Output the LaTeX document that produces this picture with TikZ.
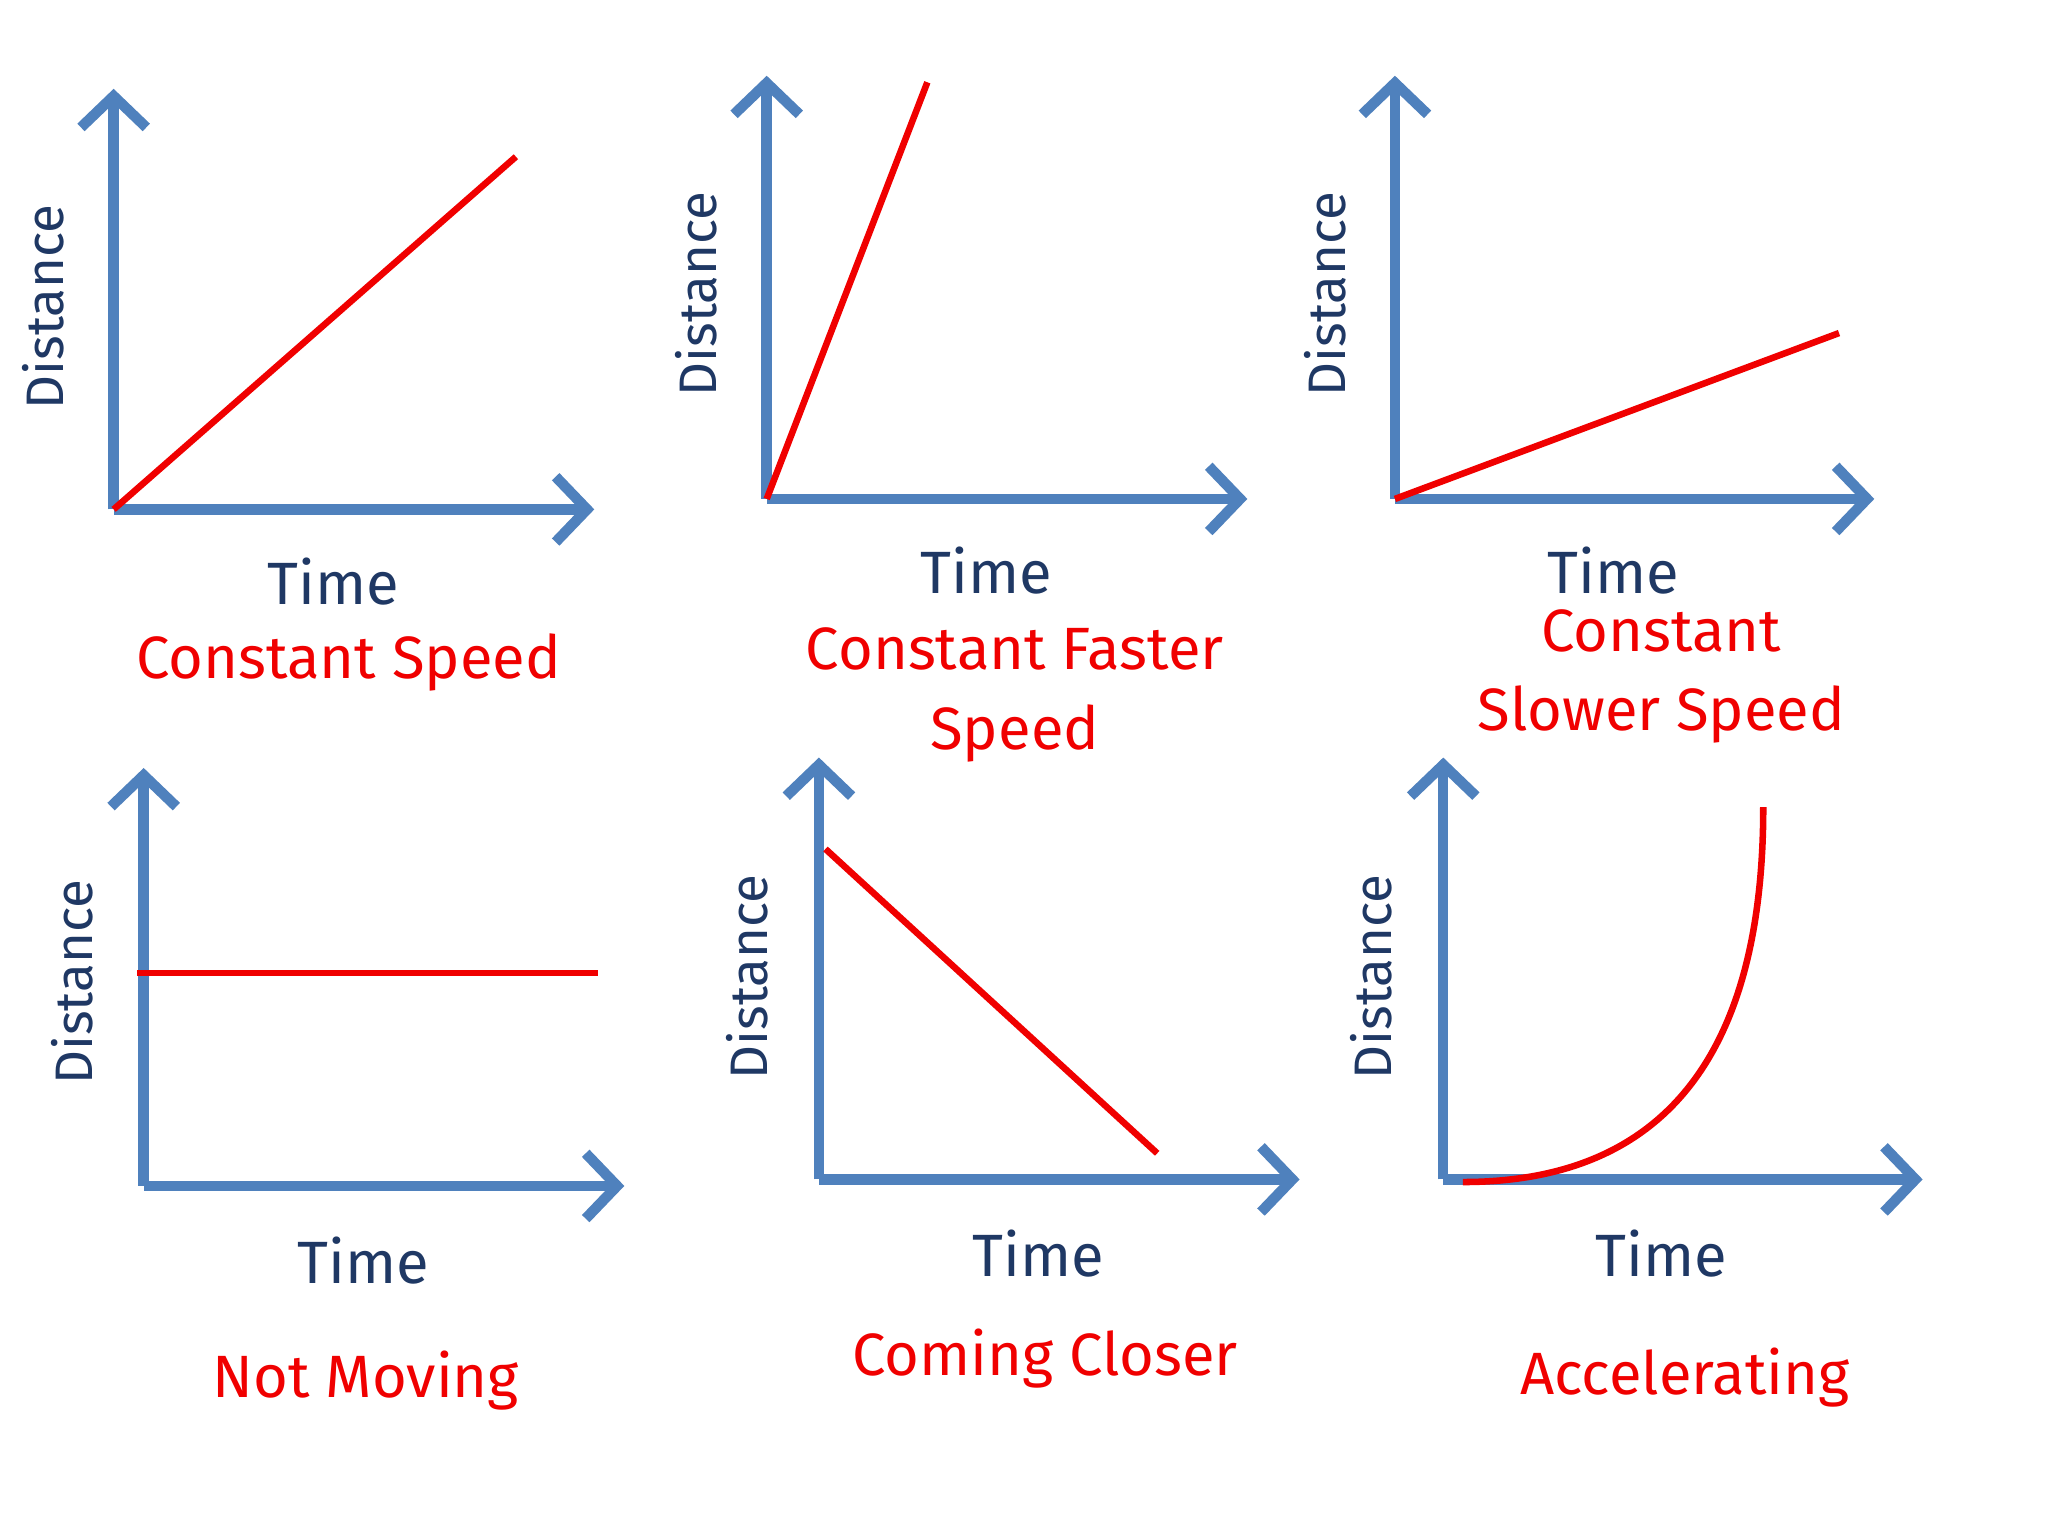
\documentclass[tikz,border=0pt]{standalone}
\usepackage{fontspec}
\setmainfont{Fira Sans}
\usetikzlibrary{arrows.meta}
\definecolor{axb}{HTML}{4F81BD}
\definecolor{txb}{HTML}{1F3864}
\definecolor{rd}{HTML}{F00000}
\tikzset{
 axis/.style={draw=axb,line width=0.08cm,-{Straight Barb[length=0.24cm,width=0.5cm,line width=0.08cm]}},
 curve/.style={draw=rd,line width=0.05cm},
 dist/.style={rotate=90,text=txb,font=\fontsize{11.5}{14}\selectfont},
 tim/.style={text=txb,font=\fontsize{13}{15}\selectfont},
 ttl/.style={text=rd,font=\fontsize{13}{15}\selectfont,align=center}
}
\begin{document}
\begin{tikzpicture}[x=0.01cm,y=-0.01cm]
\useasboundingbox[fill=white] (0,0) rectangle (1568,1176);
% chart 1
\coordinate (o1) at (87,390); \coordinate (t1) at (87,68); \coordinate (r1) at (455,390);
\draw[axis] (o1) -- (t1); \draw[axis] (o1) -- (r1);
\coordinate (a1) at (87,390); \coordinate (b1) at (395,120);
\draw[curve] (a1) -- (b1);
\node[dist] (d1) at (33,235) {Distance};
\node[tim] (m1) at (255,445) {Time};
\node[ttl] (n1) at (267,507) {Constant Speed};
% chart 2
\coordinate (o2) at (587,382); \coordinate (t2) at (587,58); \coordinate (r2) at (955,382);
\draw[axis] (o2) -- (t2); \draw[axis] (o2) -- (r2);
\coordinate (a2) at (587,382); \coordinate (b2) at (710,63);
\draw[curve] (a2) -- (b2);
\node[dist] (d2) at (533,225) {Distance};
\node[tim] (m2) at (755,437) {Time};
\node[ttl] (n2) at (777,532) {Constant Faster\\[0.08cm]Speed};
% chart 3
\coordinate (o3) at (1068,382); \coordinate (t3) at (1068,58); \coordinate (r3) at (1435,382);
\draw[axis] (o3) -- (t3); \draw[axis] (o3) -- (r3);
\coordinate (a3) at (1068,382); \coordinate (b3) at (1408,255);
\draw[curve] (a3) -- (b3);
\node[dist] (d3) at (1015,225) {Distance};
\node[tim] (m3) at (1235,437) {Time};
\node[ttl] (n3) at (1272,518) {Constant\\[0.08cm]Slower Speed};
% chart 4
\coordinate (o4) at (110,908); \coordinate (t4) at (110,588); \coordinate (r4) at (478,908);
\draw[axis] (o4) -- (t4); \draw[axis] (o4) -- (r4);
\coordinate (a4) at (105,745); \coordinate (b4) at (458,745);
\draw[curve] (a4) -- (b4);
\node[dist] (d4) at (55,752) {Distance};
\node[tim] (m4) at (278,965) {Time};
\node[ttl] (n4) at (280,1057) {Not Moving};
% chart 5
\coordinate (o5) at (627,903); \coordinate (t5) at (627,580); \coordinate (r5) at (995,903);
\draw[axis] (o5) -- (t5); \draw[axis] (o5) -- (r5);
\coordinate (a5) at (632,650); \coordinate (b5) at (886,883);
\draw[curve] (a5) -- (b5);
\node[dist] (d5) at (572,748) {Distance};
\node[tim] (m5) at (795,960) {Time};
\node[ttl] (n5) at (800,1040) {Coming Closer};
% chart 6
\coordinate (o6) at (1105,903); \coordinate (t6) at (1105,580); \coordinate (r6) at (1472,903);
\draw[axis] (o6) -- (t6); \draw[axis] (o6) -- (r6);
\coordinate (a6) at (1120,905); \coordinate (b6) at (1350,618);
\draw[curve] (a6) .. controls (1280,905) and (1350,800) .. (b6);
\node[dist] (d6) at (1050,748) {Distance};
\node[tim] (m6) at (1272,960) {Time};
\node[ttl] (n6) at (1290,1055) {Accelerating};
\end{tikzpicture}
\end{document}
